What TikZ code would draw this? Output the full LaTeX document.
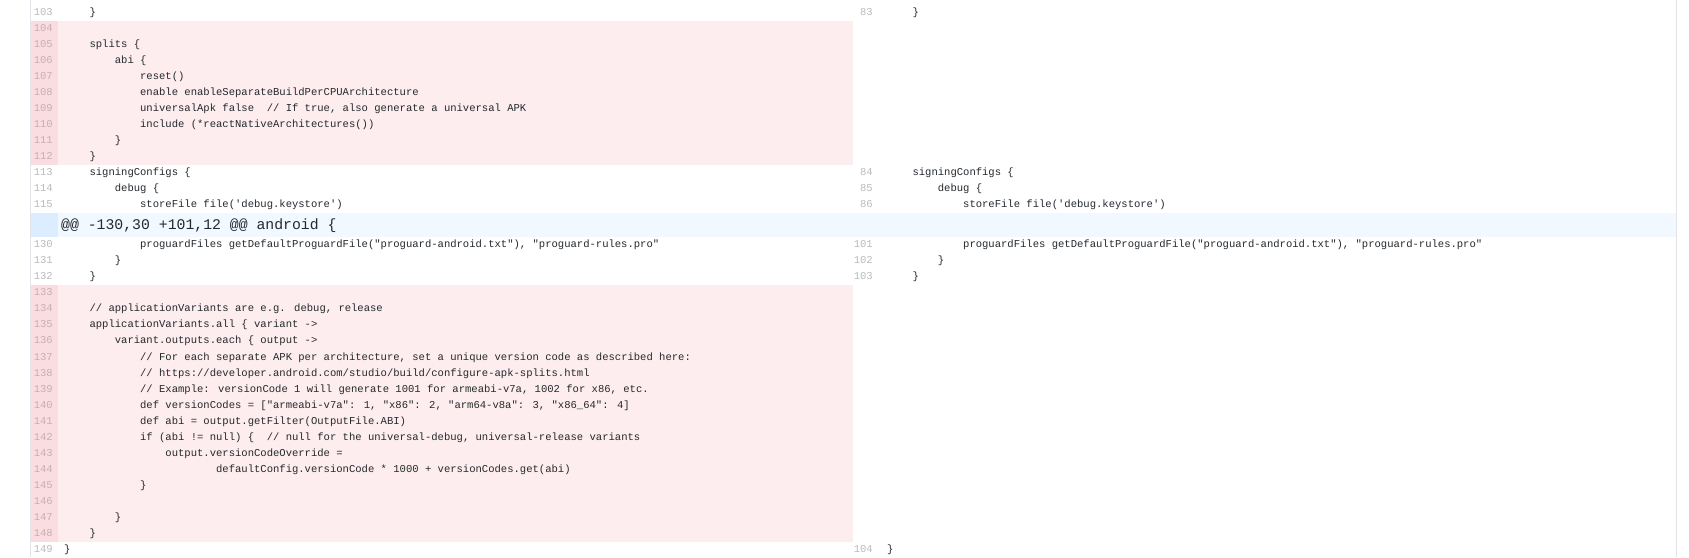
\documentclass[tikz,border=0pt]{standalone}
\usepackage{fontspec}
\newfontfamily\cf{Liberation Mono}
\definecolor{delbg}{HTML}{FDEDEE}
\definecolor{delgut}{HTML}{FADDE0}
\definecolor{hunkbg}{HTML}{F1F8FF}
\definecolor{hunkgut}{HTML}{DBEDFF}
\definecolor{txt}{HTML}{24292E}
\definecolor{numc}{HTML}{BABBBD}
\definecolor{numd}{HTML}{C9AEB1}
\definecolor{rulec}{HTML}{E1E4E8}
\tikzset{
  code/.style={anchor=west,inner sep=0pt,text height=7.5pt,text depth=2.2pt,font=\cf\fontsize{10.55}{12}\selectfont,text=txt},
  num/.style={anchor=east,inner sep=0pt,text height=7.5pt,text depth=2.2pt,font=\cf\fontsize{10.55}{12}\selectfont,text=numc},
  numdel/.style={num,text=numd},
  hunk/.style={anchor=west,inner sep=0pt,font=\cf\fontsize{14.8}{16}\selectfont,text=txt}
}
% upper rows: y = 12.7+16.05k ; lower rows: y = 245+16.05j
\newcommand\UL[4]{\node[#4] (nl#1) at (53,{12.7+16.05*#2}) {#1};}
\newcommand\LL[4]{\node[#4] (nl#1) at (53,{245+16.05*#2}) {#1};}
\newcommand\UC[4]{\node[code] (cl#1) at ({64+6.33*#3},{12.7+16.05*#2}) {#4};}
\newcommand\LC[4]{\node[code] (cl#1) at ({64+6.33*#3},{245+16.05*#2}) {#4};}
\newcommand\UR[4]{\node[num] (nr#1) at (873,{12.7+16.05*#2}) {#1};\node[code] (cr#1) at ({887+6.33*#3},{12.7+16.05*#2}) {#4};}
\newcommand\LR[4]{\node[num] (nr#1) at (873,{245+16.05*#2}) {#1};\node[code] (cr#1) at ({887+6.33*#3},{245+16.05*#2}) {#4};}
\begin{document}
\begin{tikzpicture}[x=1pt,y=-1pt]
\useasboundingbox (0,0) rectangle (1689,557);
\fill[white] (0,0) rectangle (1689,557);
% deleted backgrounds
\fill[delbg] (30,20.75) rectangle (853,165.2);
\fill[delgut] (30,20.75) rectangle (58,165.2);
\fill[delbg] (30,285.2) rectangle (853,542);
\fill[delgut] (30,285.2) rectangle (58,542);
% hunk
\fill[hunkbg] (30,213.3) rectangle (1676,237);
\fill[hunkgut] (30,213.3) rectangle (58,237);
\node[hunk] (hh) at (61,226) {@@ -130,30 +101,12 @@ android \{};
% borders
\draw[rulec,line width=1pt] (30,0) -- (30,557);
\draw[rulec,line width=1pt] (1676,0) -- (1676,557);
% upper left
\UL{103}{0}{}{num}\UC{103}{0}{4}{\}}
\UL{104}{1}{}{numdel}
\UL{105}{2}{}{numdel}\UC{105}{2}{4}{splits \{}
\UL{106}{3}{}{numdel}\UC{106}{3}{8}{abi \{}
\UL{107}{4}{}{numdel}\UC{107}{4}{12}{reset()}
\UL{108}{5}{}{numdel}\UC{108}{5}{12}{enable enableSeparateBuildPerCPUArchitecture}
\UL{109}{6}{}{numdel}\UC{109}{6}{12}{universalApk false\ \ // If true, also generate a universal APK}
\UL{110}{7}{}{numdel}\UC{110}{7}{12}{include (*reactNativeArchitectures())}
\UL{111}{8}{}{numdel}\UC{111}{8}{8}{\}}
\UL{112}{9}{}{numdel}\UC{112}{9}{4}{\}}
\UL{113}{10}{}{num}\UC{113}{10}{4}{signingConfigs \{}
\UL{114}{11}{}{num}\UC{114}{11}{8}{debug \{}
\UL{115}{12}{}{num}\UC{115}{12}{12}{storeFile file('debug.keystore')}
% upper right
\UR{83}{0}{4}{\}}
\UR{84}{10}{4}{signingConfigs \{}
\UR{85}{11}{8}{debug \{}
\UR{86}{12}{12}{storeFile file('debug.keystore')}
% lower left
\LL{130}{0}{}{num}\LC{130}{0}{12}{proguardFiles getDefaultProguardFile("proguard-android.txt"), "proguard-rules.pro"}
\LL{131}{1}{}{num}\LC{131}{1}{8}{\}}
\LL{132}{2}{}{num}\LC{132}{2}{4}{\}}
\LL{133}{3}{}{numdel}
\LL{134}{4}{}{numdel}\LC{134}{4}{4}{// applicationVariants are e.g. debug, release}
\LL{135}{5}{}{numdel}\LC{135}{5}{4}{applicationVariants.all \{ variant ->}
\LL{136}{6}{}{numdel}\LC{136}{6}{8}{variant.outputs.each \{ output ->}
\LL{137}{7}{}{numdel}\LC{137}{7}{12}{// For each separate APK per architecture, set a unique version code as described here:}
\LL{138}{8}{}{numdel}\LC{138}{8}{12}{// https://developer.android.com/studio/build/configure-apk-splits.html}
\LL{139}{9}{}{numdel}\LC{139}{9}{12}{// Example: versionCode 1 will generate 1001 for armeabi-v7a, 1002 for x86, etc.}
\LL{140}{10}{}{numdel}\LC{140}{10}{12}{def versionCodes = ["armeabi-v7a": 1, "x86": 2, "arm64-v8a": 3, "x86\_64": 4]}
\LL{141}{11}{}{numdel}\LC{141}{11}{12}{def abi = output.getFilter(OutputFile.ABI)}
\LL{142}{12}{}{numdel}\LC{142}{12}{12}{if (abi != null) \{\ \ // null for the universal-debug, universal-release variants}
\LL{143}{13}{}{numdel}\LC{143}{13}{16}{output.versionCodeOverride =}
\LL{144}{14}{}{numdel}\LC{144}{14}{24}{defaultConfig.versionCode * 1000 + versionCodes.get(abi)}
\LL{145}{15}{}{numdel}\LC{145}{15}{12}{\}}
\LL{146}{16}{}{numdel}
\LL{147}{17}{}{numdel}\LC{147}{17}{8}{\}}
\LL{148}{18}{}{numdel}\LC{148}{18}{4}{\}}
\LL{149}{19}{}{num}\LC{149}{19}{0}{\}}
% lower right
\LR{101}{0}{12}{proguardFiles getDefaultProguardFile("proguard-android.txt"), "proguard-rules.pro"}
\LR{102}{1}{8}{\}}
\LR{103}{2}{4}{\}}
\LR{104}{19}{0}{\}}
\end{tikzpicture}
\end{document}
